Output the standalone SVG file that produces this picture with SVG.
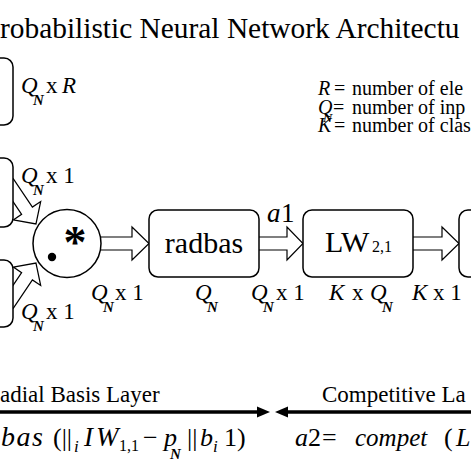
<svg xmlns="http://www.w3.org/2000/svg" width="471" height="471" viewBox="0 0 471 471">
<style>
.t{font-family:"Liberation Serif","Times New Roman",serif;fill:#000}
.i{font-style:italic}
.nb{font-style:italic;font-weight:bold;font-size:15px}
.lb{font-size:23px}
.lg{font-size:20px}
.fm{font-size:26px}
.box{fill:#fff;stroke:#000;stroke-width:1.5}
.blk{fill:#fff;stroke:#000;stroke-width:1.2;stroke-linejoin:miter}
.ln{stroke:#000;stroke-width:3.5;fill:none}
</style>
<defs>
<polygon id="diag" points="0,-6.5 34,-6.5 34,-16.5 50,0 34,16.5 34,6.5 0,6.5"/>
</defs>
<rect width="471" height="471" fill="#fff"/>
<text class="t" x="0" y="38" font-size="29.4">robabilistic Neural Network Architectu</text>

<g id="connectors">
<use href="#diag" class="blk" transform="translate(8,182.5) rotate(56)"/>
<use href="#diag" class="blk" transform="translate(8,304.5) rotate(-56)"/>
<path class="blk" d="M95,237 H132 V227 L149,243.5 L132,260 V250 H95 Z"/>
<path class="blk" d="M255,237 H287 V227 L303,243.5 L287,260 V250 H255 Z"/>
<path class="blk" d="M409,237 H442 V227 L459,243.5 L442,260 V250 H409 Z"/>
<line class="ln" x1="0" y1="412" x2="260" y2="412"/>
<polygon points="257,406.5 270,412 257,417.5"/>
<line class="ln" x1="285" y1="412" x2="471" y2="412"/>
<polygon points="288,406.5 275,412 288,417.5"/>
</g>

<g id="input-top">
<rect class="box" x="-30" y="58" width="43" height="67" rx="9"/>
<text class="t lb i" x="21" y="93">Q</text><text class="t nb" x="33" y="105">N</text><text class="t lb" x="46" y="93">x</text><text class="t lb i" x="62" y="93">R</text>
</g>
<g id="input-upper">
<rect class="box" x="-30" y="158" width="43" height="69" rx="9"/>
<text class="t lb i" x="21" y="183">Q</text><text class="t nb" x="33" y="195">N</text><text class="t lb" x="46" y="183">x 1</text>
</g>
<g id="input-lower">
<rect class="box" x="-30" y="260" width="43" height="67" rx="9"/>
<text class="t lb i" x="21" y="319">Q</text><text class="t nb" x="33" y="331">N</text><text class="t lb" x="46" y="319">x 1</text>
</g>

<g id="product">
<circle cx="67" cy="243.5" r="34" fill="#fff" stroke="#000" stroke-width="1.5"/>
<text class="t" x="75" y="258" font-size="46" font-weight="bold" text-anchor="middle">*</text>
<circle cx="52" cy="257" r="4.2"/>
<text class="t lb i" x="91" y="300">Q</text><text class="t nb" x="103" y="312">N</text><text class="t lb" x="115" y="300">x 1</text>
</g>

<g id="radbas">
<rect class="box" x="149" y="210" width="110" height="67" rx="9"/>
<text class="t" x="204" y="253" font-size="30" text-anchor="middle">radbas</text>
<text class="t lb i" x="195" y="300">Q</text><text class="t nb" x="207" y="312">N</text>
</g>

<g id="a1-label">
<text class="t i" x="267" y="222" font-size="27">a</text><text class="t" x="281" y="222" font-size="27">1</text>
<text class="t lb i" x="251" y="300">Q</text><text class="t nb" x="263" y="312">N</text><text class="t lb" x="276" y="300">x 1</text>
</g>

<g id="lw">
<rect class="box" x="303" y="210" width="110" height="67" rx="9"/>
<text class="t" x="325" y="252" font-size="30">LW</text><text class="t" x="372" y="252" font-size="16">2,1</text>
<text class="t lb i" x="329" y="300">K</text><text class="t lb" x="352" y="300">x</text><text class="t lb i" x="370" y="300">Q</text><text class="t nb" x="382" y="312">N</text>
<text class="t lb i" x="412" y="300">K</text><text class="t lb" x="433" y="300">x 1</text>
</g>

<g id="compet">
<rect class="box" x="459" y="210" width="40" height="67" rx="9"/>
</g>

<g id="legend">
<text class="t lg i" x="318" y="95">R</text><text class="t lg" x="334" y="95">=</text><text class="t lg" x="352" y="95">number of ele</text>
<text class="t lg i" x="318" y="113.5">Q</text><text class="t i" x="323" y="122" font-size="13" font-weight="bold">N</text><text class="t lg" x="333" y="113.5">=</text><text class="t lg" x="352" y="113.5">number of inp</text>
<text class="t lg i" x="318" y="132">K</text><text class="t lg" x="334" y="132">=</text><text class="t lg" x="352" y="132">number of clas</text>
</g>

<g id="layers">
<text class="t" x="0" y="402" font-size="23">adial Basis Layer</text>
<text class="t" x="322" y="402" font-size="23">Competitive La</text>
<text class="t i" x="1" y="446" font-size="28" letter-spacing="1.5">bas</text>
<text class="t fm" x="53" y="446">(||</text>
<text class="t i" x="74" y="452" font-size="17">i</text>
<text class="t i" x="84" y="446" font-size="27" letter-spacing="3">IW</text>
<text class="t" x="119" y="451" font-size="16">1,1</text>
<text class="t fm" x="143" y="446">−</text>
<text class="t fm i" x="164" y="446">p</text>
<text class="t nb" x="170" y="459">N</text>
<text class="t fm" x="187" y="446">||</text>
<text class="t fm i" x="200" y="446">b</text>
<text class="t i" x="213" y="452" font-size="17">i</text>
<text class="t fm" x="224" y="446">1)</text>
<text class="t fm i" x="295" y="446">a</text>
<text class="t fm" x="308" y="446">2</text>
<text class="t fm" x="322" y="446">=</text>
<text class="t i" x="355" y="446" font-size="25">compet</text>
<text class="t fm" x="444" y="446">(</text>
<text class="t fm i" x="456" y="446">L</text>
</g>
</svg>
